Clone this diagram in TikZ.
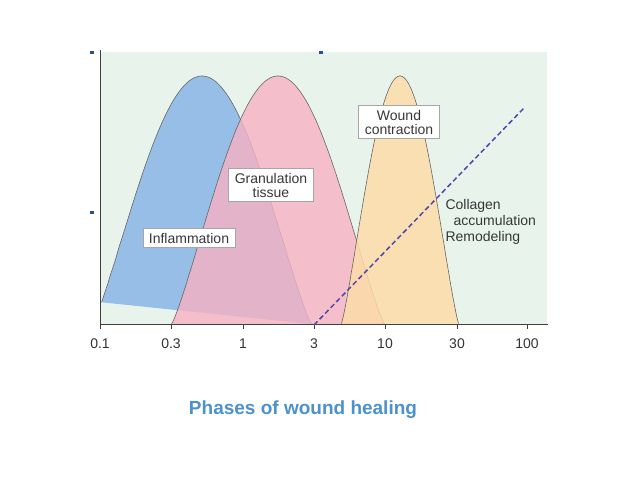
\documentclass[tikz,border=0pt]{standalone}
\usepackage{fontspec}
\setmainfont{Liberation Sans}
\definecolor{bg}{RGB}{232,243,236}
\definecolor{cblue}{RGB}{150,190,230}
\definecolor{cpink}{RGB}{247,178,194}
\definecolor{corange}{RGB}{252,220,168}
\definecolor{dline}{RGB}{85,70,170}
\definecolor{ttl}{RGB}{75,145,205}
\definecolor{txt}{RGB}{55,55,55}
\definecolor{dot}{RGB}{40,80,150}
\begin{document}
\begin{tikzpicture}[x=1pt,y=-1pt,
  lbl/.style={draw=gray!70,fill=white,line width=0.8pt,font=\fontsize{14}{15}\selectfont,text=txt,align=center,inner xsep=6pt,inner ysep=4pt},
  tick/.style={font=\fontsize{14}{15}\selectfont,text=black!80},
  curve/.style={draw=black!60,line width=0.6pt}]
\useasboundingbox (0,0) rectangle (638,478);
\fill[bg] (100,52) rectangle (547,325);
% curves
\filldraw[curve,fill=cblue] plot[domain=101.5:312.5,samples=100,smooth] (\x,{325-249*pow((1+cos(((\x-202)/110)*180))/2,0.6)});
\filldraw[curve,fill=cpink,fill opacity=0.8] plot[domain=171.5:384.5,samples=100,smooth] (\x,{325-249*pow((1+cos(((\x-278)/107)*180))/2,0.6)});
\filldraw[curve,fill=corange,fill opacity=0.85] plot[domain=341.5:458.5,samples=100,smooth] (\x,{325-249*pow((1+cos(((\x-400)/59)*180))/2,0.6)});
% axes
\draw[black!75,line width=1pt] (100,50) -- (100,325) -- (548,325);
\foreach \xx in {100,171,243,314,385,457,527} \draw[black!75,line width=1pt] (\xx,325) -- (\xx,329);
\coordinate (d0) at (314,325);
\coordinate (d1) at (525,107);
\draw[dline,line width=1.5pt,dash pattern=on 5pt off 3pt] (d0) -- (d1);
% dots
\foreach \p in {(92,53),(321,53),(92,213)} \fill[dot] \p ++(-2,-2) rectangle ++(4,3);
% labels
\node[lbl] (infl) at (189,238) {Inflammation};
\node[lbl] (gran) at (271,185) {Granulation\\[-1pt]tissue};
\node[lbl] (wound) at (399,122) {Wound\\[-1pt]contraction};
\node[font=\fontsize{14}{16}\selectfont,text=txt,align=left,anchor=west] (coll) at (442,222) {Collagen\\\hspace*{8pt}accumulation\\Remodeling};
\foreach \v/\xx in {0.1/100,0.3/171,1/243,3/314,10/385,30/457,100/527}
  \node[tick] (t\xx) at (\xx,344) {\v};
\node[font=\bfseries\fontsize{19}{22}\selectfont,text=ttl] (title) at (303,410) {Phases of wound healing};
\end{tikzpicture}
\end{document}
